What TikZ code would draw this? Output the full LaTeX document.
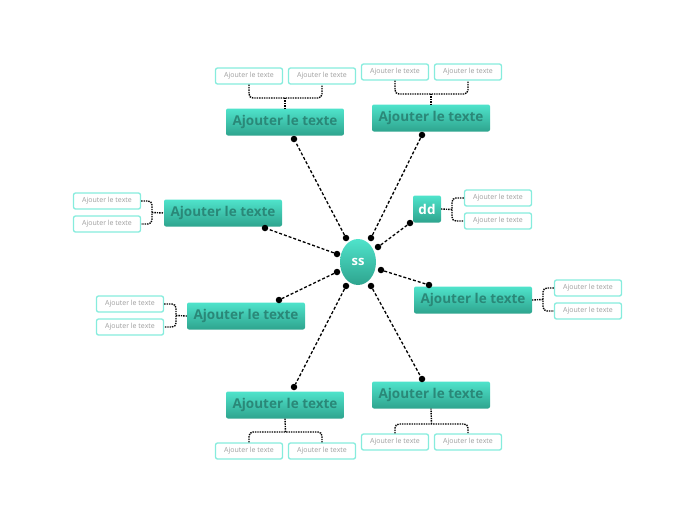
\documentclass[tikz,border=0pt]{standalone}
\usepackage{fontspec}
\setmainfont{Open Sans}
\usetikzlibrary{shapes.geometric}
\begin{document}
\begin{tikzpicture}[x=1pt,y=-1pt,
 mainbox/.style={draw=none,rounded corners=2pt,top color=tealA,bottom color=tealB,minimum width=118pt,minimum height=27pt,text=tealT,font=\bfseries\fontsize{13.5}{15}\selectfont,inner sep=0pt},
 leaf/.style={draw=leafB,line width=1.3pt,rounded corners=2pt,fill=white,minimum width=67pt,minimum height=16pt,text=gray!75,font=\fontsize{7}{8}\selectfont,inner sep=0pt},
 conn/.style={densely dashed,line width=1.3pt},
 brk/.style={densely dotted,line width=1.4pt,rounded corners=4pt},
 dot/.style={circle,fill=black,inner sep=0pt,minimum size=6.5pt}]
\definecolor{tealA}{HTML}{4FE3CB}
\definecolor{tealB}{HTML}{2EA48E}
\definecolor{tealT}{HTML}{2A8878}
\definecolor{leafB}{HTML}{86ECDD}
\useasboundingbox (0,-2) rectangle (697,518);
\node[ellipse,top color=tealA,bottom color=tealB,minimum width=36pt,minimum height=46pt,text=white,font=\bfseries\fontsize{13}{15}\selectfont,inner sep=0pt] (c) at (358,260) {ss};
% main nodes
\node[mainbox] (tl) at (285,120) {Ajouter le texte};
\node[mainbox] (tr) at (431,116) {Ajouter le texte};
\node[mainbox] (l) at (223,211) {Ajouter le texte};
\node[mainbox,minimum width=28pt,text=white] (dd) at (427,207) {dd};
\node[mainbox] (r) at (473,298) {Ajouter le texte};
\node[mainbox] (ll) at (246,314) {Ajouter le texte};
\node[mainbox] (bl) at (285,403) {Ajouter le texte};
\node[mainbox] (br) at (431,393) {Ajouter le texte};
% connectors
\foreach \n/\a/\b/\p/\q in {tl/346/236/294/137, tr/371/236/422/133, l/337/252/265/226, dd/378/245/410/221, r/381/268/429/283, ll/337/270/279/298, bl/346/284/294/385, br/371/284/422/377}{
  \node[dot] (\n c) at (\a,\b) {};
  \node[dot] (\n d) at (\p,\q) {};
  \draw[conn] (\n c) -- (\n d);
}
\foreach \n/\x/\y/\by/\mx/\my in {tl/249/74/96/285/107, tr/395/70/92/431/103}{
  \node[leaf] (\n1) at (\x,\y) {Ajouter le texte};
  \node[leaf] (\n2) at (\x+73,\y) {Ajouter le texte};
  \draw[brk] (\n1.south) -- (\x,\by) -- (\x+73,\by) -- (\n2.south);
  \draw[densely dotted,line width=1.4pt] (\mx,\by) -- (\n.north);
}
\foreach \n/\x/\y/\by in {bl/249/449/430, br/395/440/422}{
  \node[leaf] (\n1) at (\x,\y) {Ajouter le texte};
  \node[leaf] (\n2) at (\x+73,\y) {Ajouter le texte};
  \draw[brk] (\n1.north) -- (\x,\by) -- (\x+73,\by) -- (\n2.north);
  \draw[densely dotted,line width=1.4pt] (\x+36.5,\by) -- (\n.south);
}
\foreach \n/\x/\y/\bx in {l/107/199/152, ll/130/302/176}{
  \node[leaf] (\n1) at (\x,\y) {Ajouter le texte};
  \node[leaf] (\n2) at (\x,\y+23) {Ajouter le texte};
  \draw[brk] (\n1.east) -- (\bx,\y) -- (\bx,\y+23) -- (\n2.east);
  \draw[densely dotted,line width=1.4pt] (\bx,\y+11.5) -- (\n.west);
}
\foreach \n/\x/\y/\bx in {dd/498/196/452, r/588/286/543}{
  \node[leaf] (\n1) at (\x,\y) {Ajouter le texte};
  \node[leaf] (\n2) at (\x,\y+23) {Ajouter le texte};
  \draw[brk] (\n1.west) -- (\bx,\y) -- (\bx,\y+23) -- (\n2.west);
  \draw[densely dotted,line width=1.4pt] (\bx,\y+11.5) -- (\n.east);
}
\end{tikzpicture}
\end{document}
